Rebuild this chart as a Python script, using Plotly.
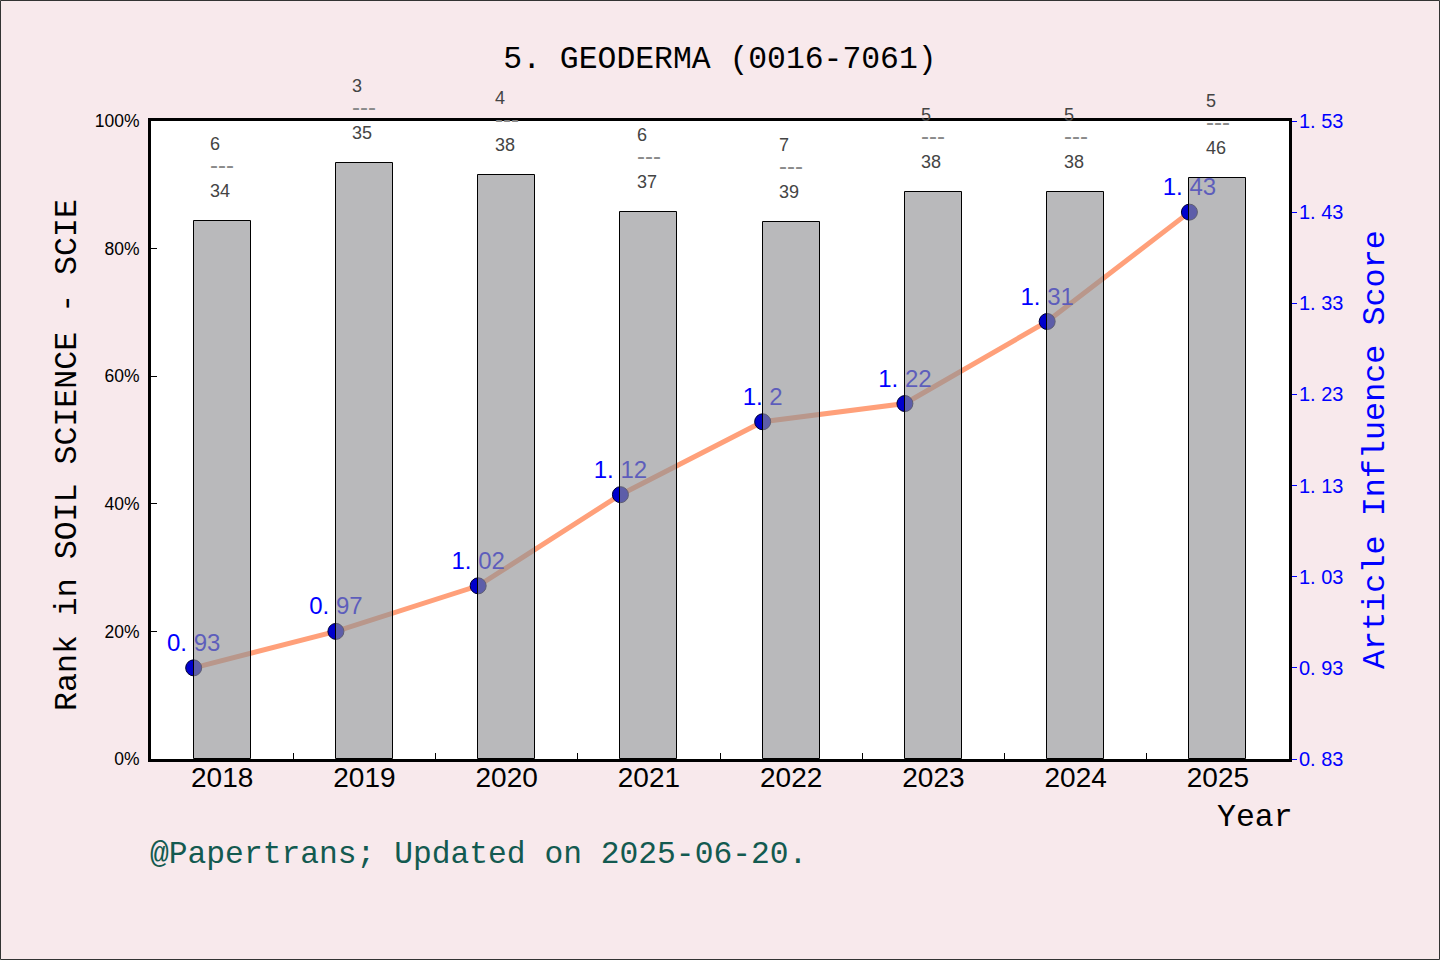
import plotly.graph_objects as go

years = [2018, 2019, 2020, 2021, 2022, 2023, 2024, 2025]
rank_pct = [84.4, 93.4, 91.6, 85.8, 84.1, 88.8, 88.8, 91.1]
rank_pos = [6, 3, 4, 6, 7, 5, 5, 5]
rank_total = [34, 35, 38, 37, 39, 38, 38, 46]
ais = [0.93, 0.97, 1.02, 1.12, 1.20, 1.22, 1.31, 1.43]
ais_ticks = [0.83, 0.93, 1.03, 1.13, 1.23, 1.33, 1.43, 1.53]
pct_ticks = [0, 20, 40, 60, 80, 100]

BAR_W = 0.4
MONO = "Liberation Mono"
SANS = "Liberation Sans"

def fmt(v):
    s = f"{v:g}"
    return s.replace(".", ". ")

fig = go.Figure()

# Line on base axis (drawn below bars)
fig.add_trace(go.Scatter(
    x=years, y=ais, mode="lines+markers+text",
    line=dict(color="#ffa07a", width=5),
    marker=dict(size=16, color="#0000cd", line=dict(color="#000033", width=1)),
    text=[fmt(v) for v in ais], textposition="top center",
    textfont=dict(family=SANS, size=24, color="#0000ff"),
    xaxis="x", yaxis="y", showlegend=False, cliponaxis=False,
))

# Bars on overlaying axis (drawn above line)
fig.add_trace(go.Bar(
    x=years, y=rank_pct, width=BAR_W, offset=0,
    marker=dict(color="rgba(145,146,149,0.64)", line=dict(color="black", width=1)),
    xaxis="x", yaxis="y2", showlegend=False,
))

annotations = []
for yr, p, r, n in zip(years, rank_pct, rank_pos, rank_total):
    annotations.append(dict(
        x=yr + BAR_W / 2, y=p, xref="x", yref="y2",
        text=f"{r}<br><span style='color:#8a8a8a;font-size:24px'>---</span><br>{n}",
        showarrow=False, xanchor="center", yanchor="bottom", align="left",
        yshift=18, font=dict(family=SANS, size=18, color="#444444"),
    ))

W, H, L, T = 1138, 638, 151, 121
annotations += [
    dict(x=(67 - L) / W, y=(759 - 455) / H, xref="paper", yref="paper",
         text="Rank in SOIL SCIENCE - SCIE", textangle=-90, showarrow=False,
         xanchor="center", yanchor="middle",
         font=dict(family=MONO, size=31.6, color="black")),
    dict(x=(1376 - L) / W, y=(759 - 450) / H, xref="paper", yref="paper",
         text="Article Influence Score", textangle=-90, showarrow=False,
         xanchor="center", yanchor="middle",
         font=dict(family=MONO, size=31.8, color="#0000ff")),
    dict(x=1.0 + 6 / W, y=(759 - 817) / H, xref="paper", yref="paper",
         text="Year", showarrow=False, xanchor="right", yanchor="middle",
         font=dict(family=MONO, size=31.5, color="black")),
    dict(x=-3 / W, y=(759 - 855) / H, xref="paper", yref="paper",
         text="@Papertrans; Updated on 2025-06-20.", showarrow=False,
         xanchor="left", yanchor="middle",
         font=dict(family=MONO, size=31.3, color="#135a50")),
]

fig.update_layout(
    width=1440, height=960,
    margin=dict(l=L, r=1440 - L - W, t=T, b=960 - T - H, pad=0),
    paper_bgcolor="#f8e9ec", plot_bgcolor="white",
    title=dict(text="5. GEODERMA (0016-7061)", x=0.5, xanchor="center",
               y=1 - 57 / 960, yanchor="middle", yref="container",
               font=dict(family=MONO, size=31.4, color="black")),
    xaxis=dict(
        range=[2017.7, 2025.7], showgrid=False, zeroline=False,
        tickvals=[y + BAR_W / 2 for y in years], ticktext=[str(y) for y in years],
        ticks="", tickfont=dict(family=SANS, size=28, color="black"),
        ticklabelstandoff=-9,
        showline=True, linecolor="black", linewidth=3, mirror=True,
        minor=dict(tickvals=[y + 0.7 for y in years[:-1]], ticks="inside",
                   ticklen=6, tickcolor="black", tickwidth=1, showgrid=False),
    ),
    yaxis=dict(
        side="right", range=[0.83, 1.53], showgrid=False, zeroline=False,
        tickvals=ais_ticks, ticktext=[fmt(v) for v in ais_ticks],
        ticks="outside", ticklen=5, tickcolor="#0000ff", tickwidth=1,
        tickfont=dict(family=SANS, size=20, color="#0000ff"),
        ticklabelstandoff=-2,
        showline=True, linecolor="black", linewidth=3,
    ),
    yaxis2=dict(
        overlaying="y", side="left", range=[0, 100], showgrid=False, zeroline=False,
        tickvals=pct_ticks, ticktext=[f"{v}%" for v in pct_ticks],
        ticks="inside", ticklen=6, tickcolor="black", tickwidth=1,
        tickfont=dict(family=SANS, size=17.5, color="black"),
        ticklabelstandoff=5,
        showline=True, linecolor="black", linewidth=3,
    ),
    annotations=annotations,
    shapes=[dict(type="rect", xref="paper", yref="paper",
                 x0=-(L - 0.5) / W, x1=1 + (1440 - L - W - 0.5) / W,
                 y0=-(960 - T - H - 0.5) / H, y1=1 + (T - 0.5) / H,
                 line=dict(color="#333333", width=1), layer="below")],
    bargap=0,
)

fig.write_html("out.html")
